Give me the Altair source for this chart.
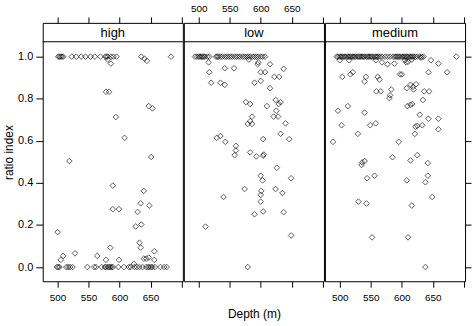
import altair as alt
import pandas as pd

PANELS = ["high", "low", "medium"]

# depths of points sitting on ratio = 1.0 and ratio = 0.0, plus other (depth, ratio) pairs
HIGH_TOP = [501, 503, 505, 507, 509, 523, 530, 538, 545, 553, 560, 569, 577, 579, 581,
            586, 590, 595, 635, 683]
HIGH_ZERO = [499, 501, 503, 514, 517, 520, 524, 548, 559, 562, 571, 576, 578, 581, 583,
             585, 587, 589, 598, 607, 615, 618, 624, 628, 632, 637, 643, 646, 648, 651,
             653, 657, 666, 672, 676]
HIGH_OTHER = [(640, 0.99), (644, 0.98), (581, 0.986), (586, 0.967), (578, 0.833),
              (583, 0.833), (647, 0.765), (653, 0.754), (594, 0.713), (608, 0.614),
              (651, 0.523), (519, 0.504), (589, 0.387), (639, 0.362), (589, 0.275),
              (599, 0.275), (634, 0.303), (648, 0.292), (629, 0.262), (626, 0.193),
              (635, 0.202), (500, 0.166), (632, 0.116), (634, 0.092), (585, 0.092),
              (528, 0.065), (509, 0.053), (505, 0.034), (564, 0.053), (578, 0.034),
              (599, 0.034), (656, 0.075), (639, 0.04), (647, 0.045), (656, 0.034),
              (643, 0.04), (623, 0.015)]

LOW_TOP = [494, 497, 500, 502, 504, 506, 508, 510, 514, 517, 528, 530, 532, 535, 538,
           542, 545, 548, 551, 554, 558, 561, 564, 567, 571, 574, 577, 580, 583, 587,
           590, 593, 596, 600, 603, 607]
LOW_ZERO = [579]
LOW_OTHER = [(516, 0.973), (581, 0.986), (596, 0.973), (595, 0.964), (615, 0.964),
             (517, 0.926), (542, 0.945), (557, 0.945), (637, 0.942), (600, 0.926),
             (607, 0.926), (520, 0.876), (535, 0.876), (542, 0.866), (590, 0.876),
             (600, 0.885), (622, 0.904), (630, 0.904), (615, 0.850), (576, 0.784),
             (583, 0.775), (610, 0.765), (624, 0.794), (632, 0.784), (629, 0.775),
             (625, 0.743), (621, 0.715), (628, 0.715), (586, 0.715), (583, 0.693),
             (579, 0.680), (586, 0.680), (640, 0.683), (529, 0.614), (535, 0.623),
             (543, 0.595), (604, 0.608), (632, 0.633), (646, 0.608), (560, 0.576),
             (560, 0.554), (558, 0.532), (583, 0.545), (593, 0.526), (604, 0.529),
             (605, 0.535), (626, 0.472), (600, 0.434), (603, 0.412), (649, 0.422),
             (574, 0.371), (601, 0.362), (624, 0.371), (635, 0.352), (600, 0.343),
             (540, 0.333), (600, 0.311), (590, 0.251), (604, 0.264), (637, 0.261),
             (511, 0.192), (649, 0.150)]

MED_TOP = [495, 497, 500, 502, 504, 506, 508, 510, 513, 515, 517, 519, 521, 523, 525,
           528, 530, 532, 534, 536, 538, 540, 543, 545, 547, 549, 551, 553, 556, 558,
           560, 562, 565, 568, 573, 577, 581, 586, 589, 591, 593, 595, 597, 600, 602,
           604, 606, 608, 610, 613, 615, 617, 619, 622, 625, 629, 632, 635, 688]
MED_ZERO = [638]
MED_OTHER = [(500, 0.983), (515, 0.983), (558, 0.983), (568, 0.973), (577, 0.964),
             (588, 0.967), (605, 0.983), (607, 0.973), (610, 0.976), (616, 0.986),
             (631, 0.995), (647, 0.983), (659, 0.967), (673, 0.926), (643, 0.926),
             (504, 0.904), (517, 0.916), (521, 0.926), (542, 0.904), (540, 0.882),
             (561, 0.904), (564, 0.891), (597, 0.916), (600, 0.916), (559, 0.835),
             (566, 0.835), (583, 0.844), (581, 0.816), (580, 0.803), (608, 0.850),
             (614, 0.866), (618, 0.857), (623, 0.869), (619, 0.844), (636, 0.835),
             (644, 0.835), (634, 0.794), (497, 0.743), (513, 0.765), (540, 0.734),
             (609, 0.765), (614, 0.771), (617, 0.775), (629, 0.724), (643, 0.705),
             (659, 0.705), (503, 0.674), (549, 0.674), (558, 0.683), (529, 0.633),
             (622, 0.667), (625, 0.671), (633, 0.674), (621, 0.633), (659, 0.655),
             (489, 0.595), (595, 0.595), (540, 0.504), (536, 0.497), (535, 0.485),
             (585, 0.522), (614, 0.507), (625, 0.532), (642, 0.494), (544, 0.422),
             (556, 0.434), (608, 0.412), (642, 0.434), (638, 0.403), (649, 0.333),
             (530, 0.311), (543, 0.302), (616, 0.292), (552, 0.141), (610, 0.141)]

X_TICKS = [500, 550, 600, 650, 700]
Y_TICKS = [0.0, 0.2, 0.4, 0.6, 0.8, 1.0]
X_DOMAIN = [476, 702]
Y_DOMAIN = [-0.0675, 1.1606]

FONT = "Liberation Sans"
PW, PH = 141, 260
STRIP_H = 19


def table(top, zero, other):
    rows = [(d, 1.0) for d in top] + [(d, 0.0) for d in zero] + list(other)
    return pd.DataFrame(rows, columns=["depth", "ratio"])


def panel(name, df, bottom_labels, top_labels, y_left, y_right, x_title):
    xs = alt.Scale(domain=X_DOMAIN, nice=False, zero=False)
    ys = alt.Scale(domain=Y_DOMAIN, nice=False, zero=False)
    lab_expr = "datum.value == 700 ? '' : datum.label"
    bottom_axis = alt.Axis(orient="bottom", values=X_TICKS, labelExpr=lab_expr,
                           labelOpacity=1 if bottom_labels else 0,
                           title=x_title if x_title else None)
    top_axis = alt.Axis(orient="top", values=X_TICKS, labelExpr=lab_expr,
                        labelOpacity=1 if top_labels else 0, title=None,
                        labelPadding=3)
    if y_left:
        left_axis = alt.Axis(orient="left", values=Y_TICKS, format=".1f",
                             title="ratio index", tickSize=7, labelPadding=3,
                             labelFontSize=11, titlePadding=2)
    else:
        left_axis = None
    if y_right:
        right_axis = alt.Axis(orient="right", values=Y_TICKS, labels=False,
                              title=None, tickSize=6)
    else:
        right_axis = None

    pts = alt.Chart(df).mark_point(shape="diamond", filled=False, color="black",
                                   size=32, strokeWidth=0.9).encode(
        x=alt.X("depth:Q", scale=xs, axis=bottom_axis),
        y=alt.Y("ratio:Q", scale=ys, axis=left_axis),
    )
    ghost = alt.Chart(df).mark_point(opacity=0).encode(
        x=alt.X("depth:Q", scale=xs, axis=top_axis),
        y=alt.Y("ratio:Q", scale=ys, axis=right_axis),
    )
    strip_line = alt.Chart(pd.DataFrame({"p": [name]})).mark_rule(
        color="black", strokeWidth=1).encode(
        x=alt.value(0), x2=alt.value(PW), y=alt.value(STRIP_H))
    strip_text = alt.Chart(pd.DataFrame({"p": [name]})).mark_text(
        font=FONT, fontSize=13, color="black", baseline="middle").encode(
        text="p:N", x=alt.value(PW / 2), y=alt.value(STRIP_H / 2 + 0.5))
    return alt.layer(pts, ghost, strip_line, strip_text).resolve_axis(
        x="independent", y="independent").properties(width=PW, height=PH)


p_high = panel("high", table(HIGH_TOP, HIGH_ZERO, HIGH_OTHER), True, False, True, False, None)
p_low = panel("low", table(LOW_TOP, LOW_ZERO, LOW_OTHER), False, True, False, False, "Depth (m)")
p_med = panel("medium", table(MED_TOP, MED_ZERO, MED_OTHER), True, False, False, True, None)

chart = alt.hconcat(p_high, p_low, p_med, spacing=-1).properties(
    padding={"left": 2, "top": 2, "right": 2, "bottom": 1},
    background="white",
).configure_view(stroke="black", strokeWidth=1).configure_axis(
    domain=False, grid=False, tickColor="black", tickWidth=1, tickSize=6,
    labelFont=FONT, labelFontSize=10, labelColor="black", labelPadding=5,
    titleFont=FONT, titleFontSize=12, titleColor="black", titleFontWeight="normal",
    titlePadding=6,
)

chart.save("out.html", embed_options={"renderer": "svg", "actions": False})
